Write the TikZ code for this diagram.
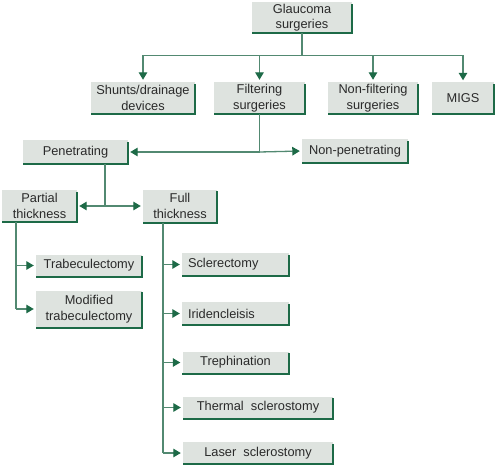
\documentclass[tikz,border=0pt]{standalone}
\usepackage{fontspec}
\setmainfont{Liberation Sans}
\usetikzlibrary{arrows.meta}
\definecolor{boxfill}{HTML}{DEE3DF}
\definecolor{bordgreen}{HTML}{1D6A47}
\definecolor{linegreen}{HTML}{528971}
\definecolor{txt}{HTML}{2A2A2A}
\tikzset{
  box/.style={fill=boxfill, inner sep=0pt, text=txt, align=center,
    font=\fontsize{12.8}{15.5}\selectfont},
  bord/.style={draw=bordgreen, line width=2.2pt},
  conn/.style={draw=linegreen, line width=1.3pt},
  arr/.style={conn, -{Triangle[length=7.5pt,width=8.5pt,color=bordgreen]}, shorten >=2pt},
}
\newcommand\bx[7][]{%
  \node[box,minimum width=#5pt,minimum height=#6pt,#1] (#2) at (#3,#4) {#7};
  \draw[bord] ([yshift=-2pt]#2.north east) -- (#2.south east) -- (#2.south west);}
\begin{document}
\begin{tikzpicture}[x=1pt,y=-1pt]
\useasboundingbox (0,0) rectangle (500,465);
\bx{G}{302}{17.5}{100}{31}{Glaucoma\\surgeries}
\bx{S}{143}{98}{104}{32}{Shunts/drainage\\devices}
\bx{F}{259.5}{98}{91}{32}{Filtering\\surgeries}
\bx{N}{373}{98}{90}{32}{Non-filtering\\surgeries}
\bx{M}{463}{98}{62}{31}{MIGS}
\bx{P}{75.5}{152}{105}{23}{Penetrating}
\bx{NP}{355}{151}{106}{24}{Non-penetrating}
\bx{PT}{39.5}{206}{75}{32}{Partial\\thickness}
\bx{FT}{180}{206}{74}{33}{Full\\thickness}
\bx{T}{89}{265.5}{106}{22}{Trabeculectomy}
\bx{MT}{89}{309}{106}{37}{Modified\\trabeculectomy}
\bx[text width=95pt,align=left]{SC}{235.5}{264.5}{107}{23}{Sclerectomy}
\bx[text width=95pt,align=left]{IR}{235.5}{313.5}{107}{23}{Iridencleisis}
\bx{TR}{235.5}{362.5}{106}{22}{Trephination}
\bx{TH}{258}{407.5}{150}{22}{Thermal\ \ sclerostomy}
\bx{LS}{258}{453}{150}{22}{Laser\ \ sclerostomy}
% top level
\draw[conn] (G.south) -- ++(0,22) coordinate (j1);
\draw[conn] (S.north |- j1) -- (M.north |- j1);
\foreach \n in {S,F,N,M} \draw[arr] (\n.north |- j1) -- (\n.north);
% filtering
\draw[conn] (F.south) -- (F.south |- P.east) coordinate (j2);
\draw[arr] (j2) -- (P.east);
\draw[arr] (j2) -- (NP.west);
% penetrating
\coordinate (j3) at (105,206);
\draw[conn] (j3 |- P.south) -- (j3);
\draw[arr] (j3) -- (PT.east);
\draw[arr] (j3) -- (FT.west);
% partial
\coordinate (k1) at (16,0);
\draw[conn] (k1 |- PT.south) -- (k1 |- MT.west);
\draw[arr] (k1 |- T.west) -- (T.west);
\draw[arr] (k1 |- MT.west) -- (MT.west);
% full
\coordinate (k2) at (163,0);
\draw[conn] (k2 |- FT.south) -- (k2 |- LS.west);
\foreach \n in {SC,IR,TR,TH,LS} \draw[arr] (k2 |- \n.west) -- (\n.west);
\end{tikzpicture}
\end{document}
